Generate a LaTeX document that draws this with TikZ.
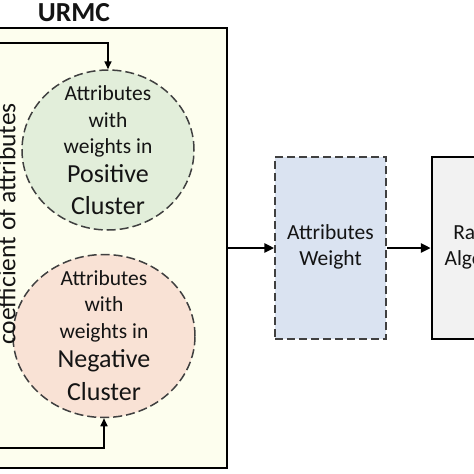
\documentclass[tikz,border=0pt]{standalone}
\usepackage{fontspec}
\setmainfont{Carlito}
\usetikzlibrary{arrows.meta,shapes.geometric}
\definecolor{boxfill}{RGB}{253,254,238}
\definecolor{posfill}{RGB}{226,238,218}
\definecolor{negfill}{RGB}{249,226,213}
\definecolor{awfill}{RGB}{218,227,241}
\definecolor{algfill}{RGB}{242,242,242}
\definecolor{dashgray}{RGB}{64,64,64}
\definecolor{txt}{RGB}{20,20,20}
\tikzset{
  frame/.style={draw=black, line width=2.5pt, rectangle, inner sep=0pt},
  cloud/.style={ellipse, draw=dashgray, line width=1.5pt, dash pattern=on 9pt off 4pt, inner sep=0pt},
  dbox/.style={rectangle, draw=dashgray, line width=1.5pt, dash pattern=on 8pt off 4pt, inner sep=0pt},
  small/.style={font=\fontsize{21.5}{26.5}\selectfont, text=txt, align=center, inner sep=0pt},
  thin arrow/.style={draw=black, line width=1.6pt, -{Triangle[length=8pt,width=7pt]}},
  thick arrow/.style={draw=black, line width=2.5pt, -{Triangle[length=10pt,width=9pt]}},
}
\begin{document}
\begin{tikzpicture}[x=1pt,y=-1pt]
\useasboundingbox (0,0) rectangle (474,474);
\clip (0,0) rectangle (474,474);
% URMC frame
\node[frame, fill=boxfill, minimum width=247pt, minimum height=440pt] (urmc) at (103.5,248) {};
\node[font=\fontsize{27.5}{31}\bfseries, text=txt, inner sep=0pt] (title) at (74,13) {URMC};
% clusters
\node[cloud, fill=posfill, minimum width=172pt, minimum height=160pt] (pos) at (108,150) {};
\node[small] (postext) at (108,150.5) {Attributes\\with\\weights in\\[2pt]{\fontsize{26}{31}\selectfont Positive}\\[6pt]{\fontsize{26}{31}\selectfont Cluster}};
\node[cloud, fill=negfill, minimum width=182pt, minimum height=163pt] (neg) at (104,336) {};
\node[small] (negtext) at (104,335.5) {Attributes\\with\\weights in\\[3pt]{\fontsize{26}{31}\selectfont Negative}\\[6pt]{\fontsize{26}{31}\selectfont Cluster}};
% rotated label
\node[rotate=90, anchor=base, font=\fontsize{25.5}{30}\selectfont, text=txt, inner sep=0pt] (coef) at (15.5,224) {coefficient of attributes};
% feedback connectors
\coordinate (inA) at (-20,43);
\coordinate (outB) at (-20,448);
\draw[thin arrow] (inA) -| (pos.north);
\draw[thin arrow] (outB) -| (neg.south);
% attributes weight
\node[dbox, fill=awfill, minimum width=111pt, minimum height=182pt] (aw) at (330.5,248) {};
\node[small] (awtext) at (330.5,247) {Attributes\\Weight};
% ranking algorithm
\node[frame, fill=algfill, minimum width=112pt, minimum height=182pt] (alg) at (488,248) {};
\node[small] (algtext) at (488,247) {Ranking\\Algorithm};
% main connectors
\draw[thick arrow] (urmc.east) -- (aw.west);
\draw[thick arrow] (aw.east) -- (alg.west);
\end{tikzpicture}
\end{document}
